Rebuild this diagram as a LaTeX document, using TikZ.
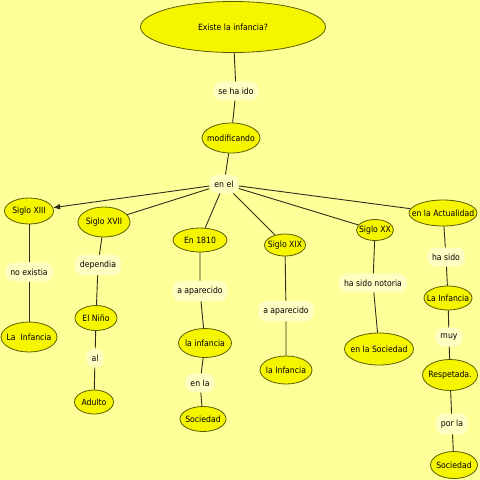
\documentclass[tikz,border=0pt]{standalone}
\usepackage{fontspec}
\setmainfont{DejaVu Sans Condensed}
\usetikzlibrary{positioning,shapes.geometric,arrows.meta}
\definecolor{paper}{HTML}{FFFF99}
\definecolor{conc}{HTML}{F5F500}
\definecolor{rim}{HTML}{5C5C00}
\definecolor{wire}{HTML}{2E2E1A}
\definecolor{halo}{HTML}{FFFFC4}

\begin{document}
\begin{tikzpicture}[x=1pt, y=-1pt, on grid,
  font=\fontsize{8.6}{10}\selectfont,
  concept/.style 2 args={ellipse, draw=rim, fill=conc, line width=0.8pt,
    inner xsep=-14pt, inner ysep=0pt, minimum width=#1, minimum height=#2},
  phrase/.style={fill=halo, rounded corners=8pt, inner xsep=5pt, inner ysep=6pt},
  link/.style={draw=wire, line width=0.9pt}]

  \fill[paper] (0,0) rectangle (480,480);
  \useasboundingbox (0,0) rectangle (480,480);

  \node [concept={185pt}{51pt}] (top) at (233,27) {Existe la infancia?};
  \node [phrase, below right=64pt and 3pt of top] (sehaido) {se ha ido};
  \node [concept={58pt}{30pt}, below left=47pt and 5pt of sehaido] (modif) {modificando};
  \node [phrase, below left=46pt and 7pt of modif] (enel) {en el};

  \node [concept={49pt}{26pt}, below left=27pt and 195pt of enel] (sXIII) {Siglo XIII};
  \node [concept={52pt}{30pt}, below left=38pt and 120pt of enel] (sXVII) {Siglo XVII};
  \node [concept={54pt}{24pt}, below left=56pt and 24pt of enel] (y1810) {En 1810};
  \node [concept={41pt}{22pt}, below right=61pt and 61pt of enel] (sXIX) {Siglo XIX};
  \node [concept={37pt}{21pt}, below right=46pt and 151pt of enel] (sXX) {Siglo XX};
  \node [concept={68pt}{26pt}, below right=29pt and 219pt of enel] (actual) {en la Actualidad};

  \node [phrase, below=61pt of sXIII] (noexist) {no existia};
  \node [concept={56pt}{30pt}, below=65pt of noexist] (infXIII) {La\ \ Infancia};

  \node [phrase, below left=43pt and 6pt of sXVII] (depend) {dependia};
  \node [concept={42pt}{25pt}, below left=53pt and 2pt of depend] (nino) {El Niño};
  \node [phrase, below left=40pt and 1pt of nino] (al) {al};
  \node [concept={39pt}{24pt}, below left=44pt and 1pt of al] (adulto) {Adulto};

  \node [phrase, below=51pt of y1810] (aparI) {a aparecido};
  \node [concept={53pt}{29pt}, below right=52pt and 5pt of aparI] (inf1810) {la infancia};
  \node [phrase, below left=40pt and 5pt of inf1810] (enla) {en la};
  \node [concept={46pt}{25pt}, below right=36pt and 3pt of enla] (soc1810) {Sociedad};

  \node [phrase, below right=66pt and 1pt of sXIX] (aparII) {a aparecido};
  \node [concept={52pt}{28pt}, below=59pt of aparII] (infXIX) {la Infancia};

  \node [phrase, below left=53pt and 2pt of sXX] (notoria) {ha sido notoria};
  \node [concept={69pt}{32pt}, below right=66pt and 6pt of notoria] (socXX) {en la Sociedad};

  \node [phrase, below right=44pt and 3pt of actual] (hasido) {ha sido};
  \node [concept={48pt}{24pt}, below right=41pt and 2pt of hasido] (infact) {La Infancia};
  \node [phrase, below right=39pt and 1pt of infact] (muy) {muy};
  \node [concept={55pt}{31pt}, below right=38pt and 1pt of muy] (resp) {Respetada.};
  \node [phrase, below right=49pt and 2pt of resp] (porla) {por la};
  \node [concept={47pt}{27pt}, below right=41pt and 2pt of porla] (socact) {Sociedad};

  \draw [link] (top) -- (sehaido) -- (modif) -- (enel);
  \draw [link, -{Latex[length=7pt, width=6pt]}] (enel) -- (sXIII);
  \draw [link] (enel) -- (sXVII);
  \draw [link] (enel) -- (y1810);
  \draw [link] (enel) -- (sXIX);
  \draw [link] (enel) -- (sXX);
  \draw [link] (enel) -- (actual);
  \draw [link] (sXIII) -- (noexist) -- (infXIII);
  \draw [link] (sXVII) -- (depend) -- (nino) -- (al) -- (adulto);
  \draw [link] (y1810) -- (aparI) -- (inf1810) -- (enla) -- (soc1810);
  \draw [link] (sXIX) -- (aparII) -- (infXIX);
  \draw [link] (sXX) -- (notoria) -- (socXX);
  \draw [link] (actual) -- (hasido) -- (infact) -- (muy) -- (resp) -- (porla) -- (socact);
\end{tikzpicture}
\end{document}
